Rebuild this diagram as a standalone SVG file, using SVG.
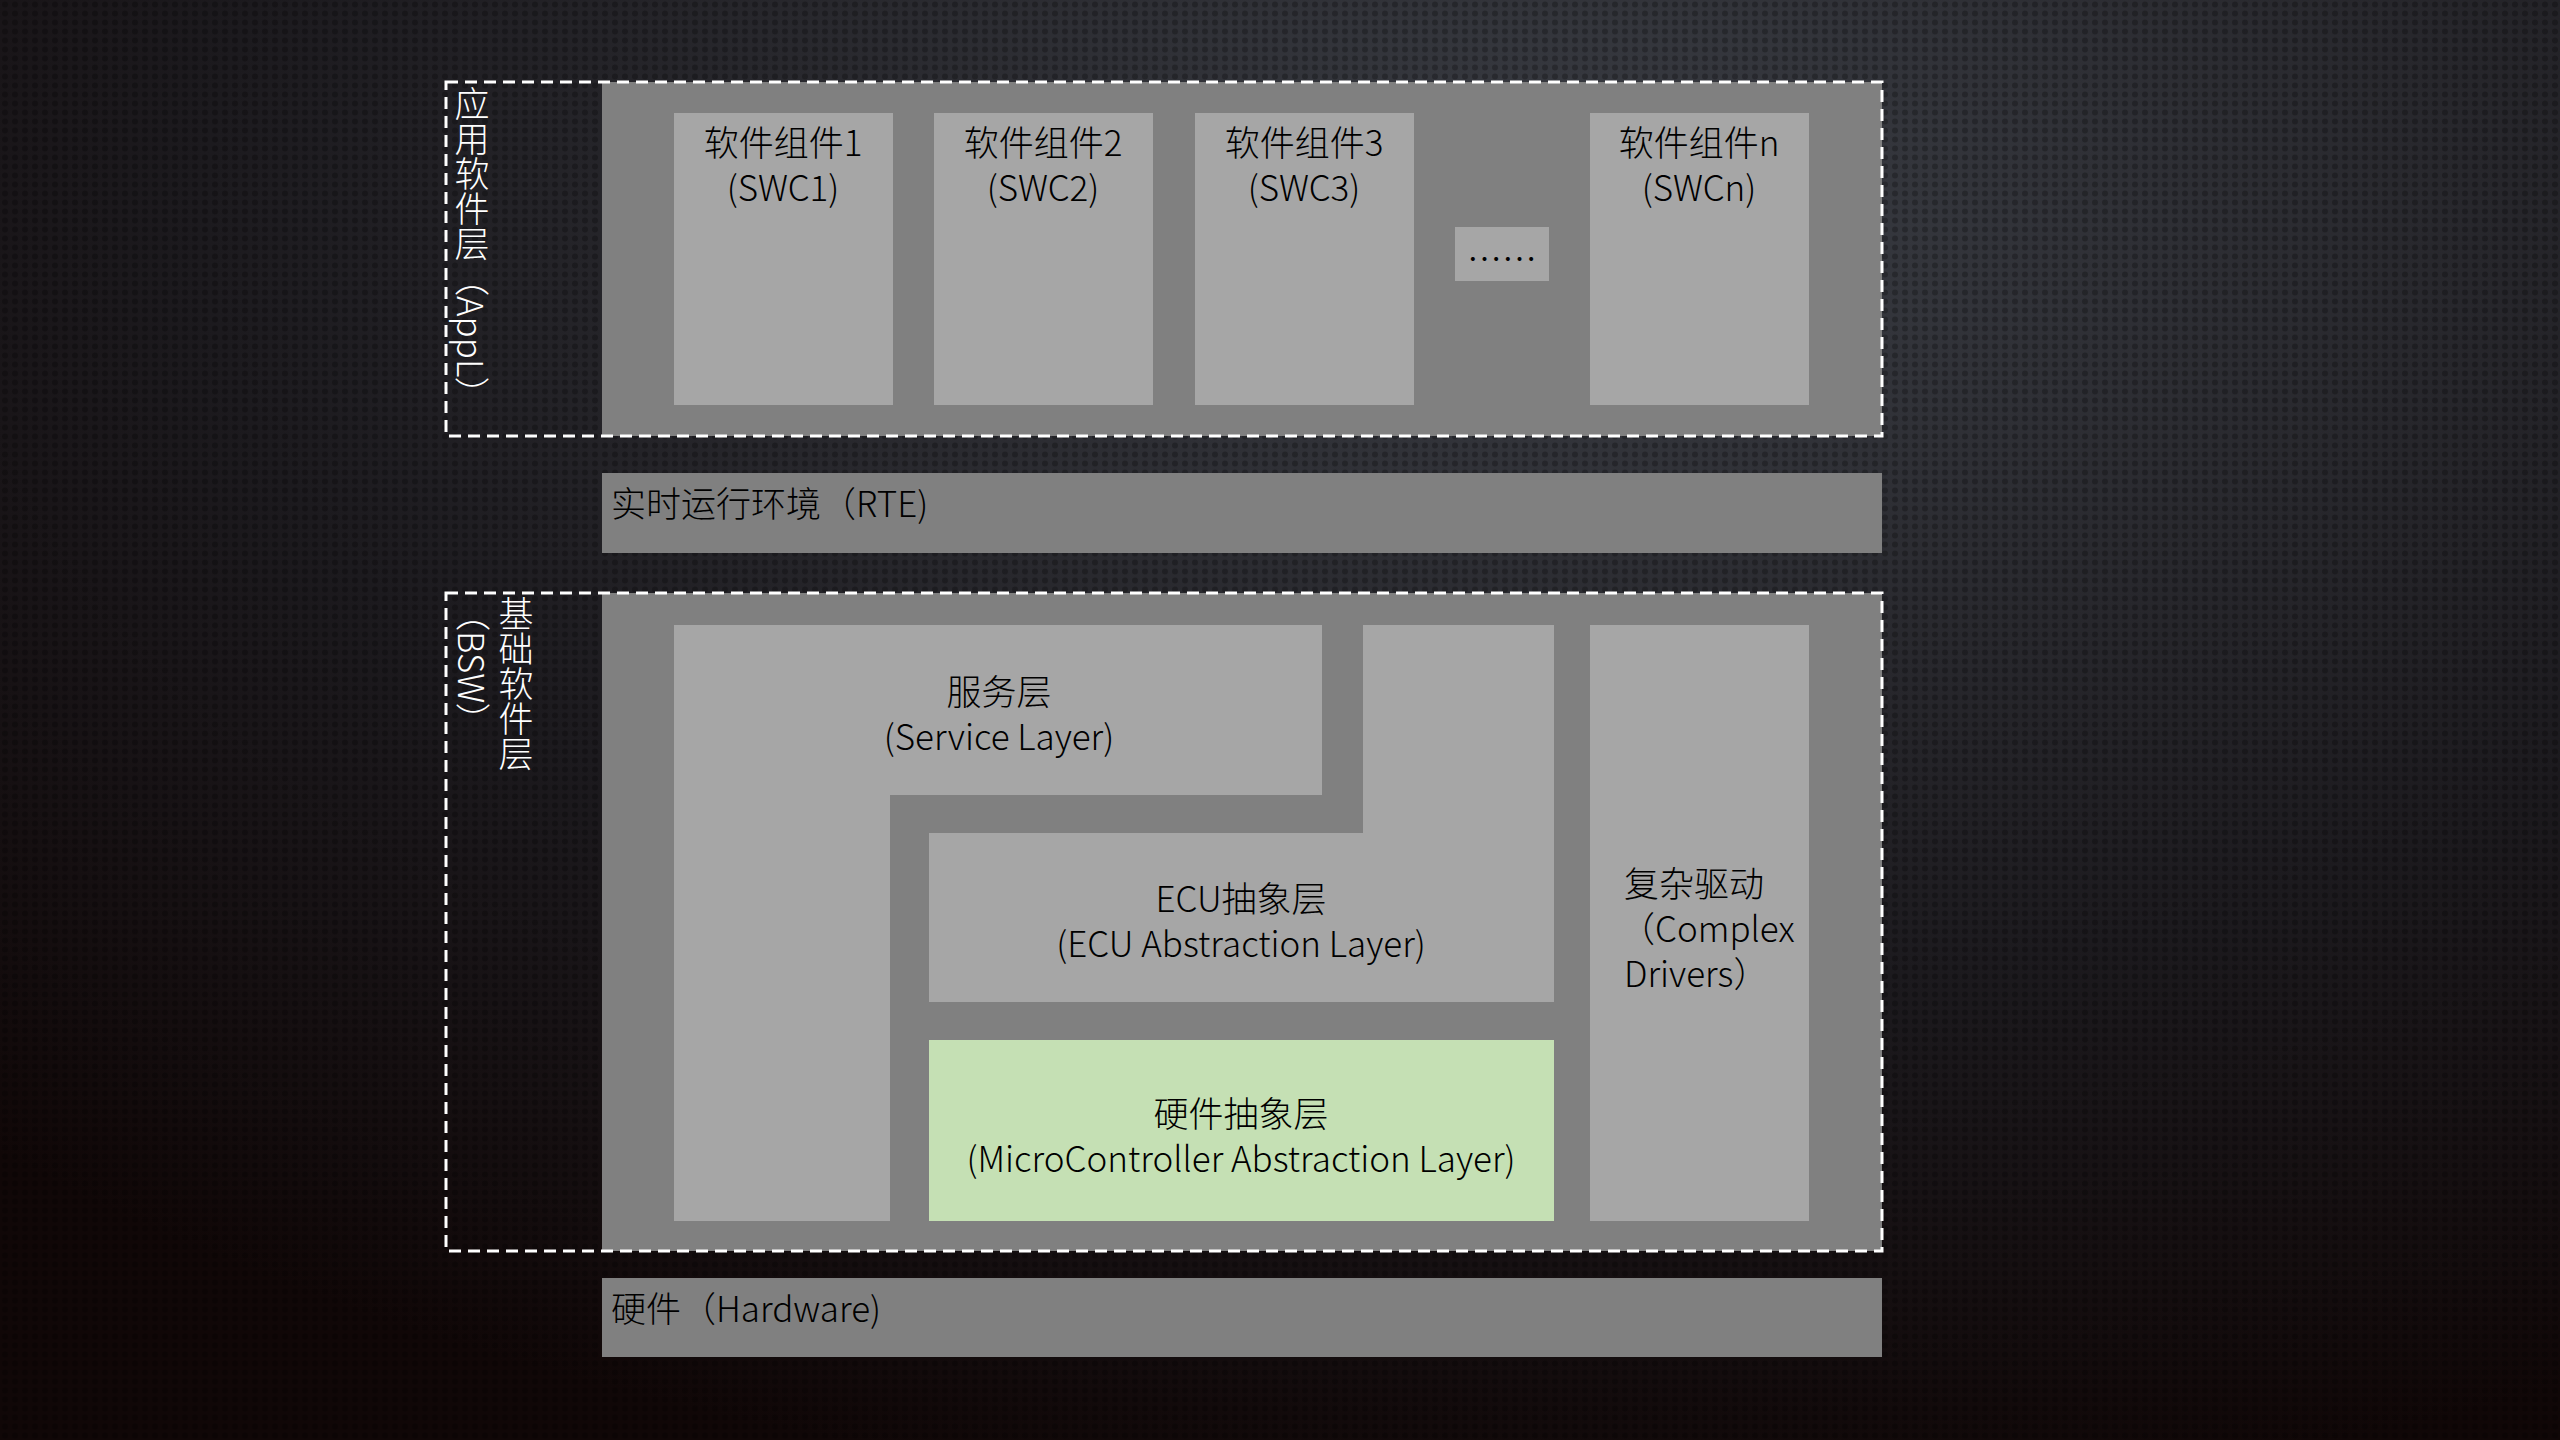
<svg xmlns="http://www.w3.org/2000/svg" width="2560" height="1440" viewBox="0 0 2560 1440">
<defs>
<radialGradient id="bg" cx="0.62" cy="0.15" r="0.9">
<stop offset="0" stop-color="#3b3e45"/><stop offset="0.6" stop-color="#1c1a1e"/><stop offset="1" stop-color="#100707"/>
</radialGradient>
<pattern id="hex" width="10" height="9" patternUnits="userSpaceOnUse">
<circle cx="5" cy="4.5" r="3" fill="#000" opacity="0.25"/>
</pattern>
<style>
.p{fill:#808080}.b{fill:#a6a6a6}.g{fill:#c5e0b4}
.d{fill:none;stroke:#fff;stroke-width:3;stroke-dasharray:12 7}
text{font-family:"Noto Sans CJK SC","Liberation Sans",sans-serif;font-size:35px;font-weight:300;fill:#000;dominant-baseline:central}
.c{text-anchor:middle}.w{fill:#fff}
</style>
</defs>
<rect width="2560" height="1440" fill="url(#bg)"/>
<rect width="2560" height="1440" fill="url(#hex)"/>
<g id="appl">
<rect class="p" x="602" y="82" width="1280" height="354"/>
<rect class="d" x="446" y="82" width="1436" height="354"/>
<text class="w" x="472" y="86" style="writing-mode:vertical-rl;dominant-baseline:auto">应用软件层（AppL）</text>
</g>
<g id="swc1"><rect class="b" x="674" y="113" width="219" height="292"/><text class="c" x="783" y="140">软件组件1</text><text class="c" x="783" y="185">(SWC1)</text></g>
<g id="swc2"><rect class="b" x="934" y="113" width="219" height="292"/><text class="c" x="1043" y="140">软件组件2</text><text class="c" x="1043" y="185">(SWC2)</text></g>
<g id="swc3"><rect class="b" x="1195" y="113" width="219" height="292"/><text class="c" x="1304" y="140">软件组件3</text><text class="c" x="1304" y="185">(SWC3)</text></g>
<g id="dots"><rect class="b" x="1455" y="227" width="94" height="54"/><text class="c" x="1502" y="256">……</text></g>
<g id="swcn"><rect class="b" x="1590" y="113" width="219" height="292"/><text class="c" x="1699" y="140">软件组件n</text><text class="c" x="1699" y="185">(SWCn)</text></g>
<g id="rte"><rect class="p" x="602" y="473" width="1280" height="80"/><text x="611" y="501">实时运行环境（RTE)</text></g>
<g id="bsw">
<rect class="p" x="602" y="593" width="1280" height="658"/>
<rect class="d" x="446" y="593" width="1436" height="658"/>
<text class="w" x="516" y="596" style="writing-mode:vertical-rl;dominant-baseline:auto">基础软件层</text>
<text class="w" x="473" y="596" style="writing-mode:vertical-rl;dominant-baseline:auto">（BSW）</text>
</g>
<g id="service"><path class="b" d="M674 625H1322V795H890V1221H674Z"/><text class="c" x="999" y="689">服务层</text><text class="c" x="999" y="734">(Service Layer)</text></g>
<g id="ecu"><path class="b" d="M1363 625H1554V1002H929V833H1363Z"/><text class="c" x="1241" y="896">ECU抽象层</text><text class="c" x="1241" y="941">(ECU Abstraction Layer)</text></g>
<g id="mcal"><rect class="g" x="929" y="1040" width="625" height="181"/><text class="c" x="1241" y="1111">硬件抽象层</text><text class="c" x="1241" y="1156">(MicroController Abstraction Layer)</text></g>
<g id="cdd"><rect class="b" x="1590" y="625" width="219" height="596"/><text x="1624" y="881">复杂驱动</text><text x="1620" y="926">（Complex</text><text x="1624" y="971">Drivers）</text></g>
<g id="hw"><rect class="p" x="602" y="1278" width="1280" height="79"/><text x="611" y="1306">硬件（Hardware)</text></g>
<g id="connectors"/>
</svg>
